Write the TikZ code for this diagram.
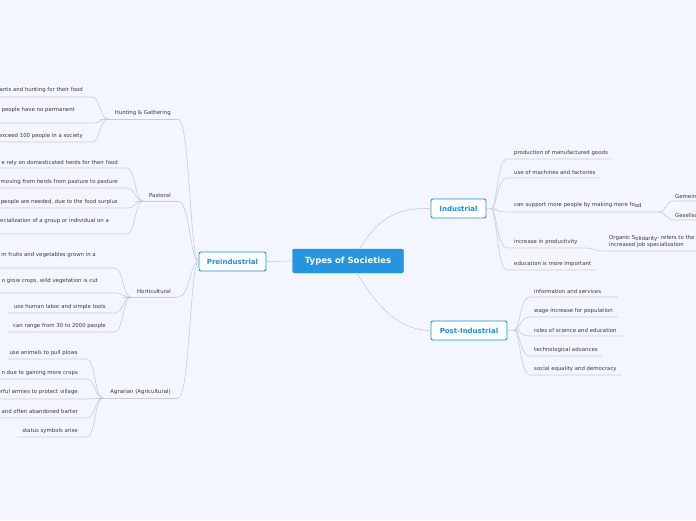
\documentclass[tikz,border=0pt]{standalone}
\usepackage{fontspec}
\setmainfont{DejaVu Sans}
\begin{document}
\begin{tikzpicture}[x=1pt,y=-1pt,
 ln/.style={draw=lncol,line width=0.6pt},
 lf/.style={inner sep=0pt,font=\fontsize{5.4}{6.2}\selectfont,text=txt},
 box/.style={draw=blu,fill=white,rounded corners=2pt,line width=0.9pt,text=blu,font=\fontsize{7}{8}\selectfont\bfseries,minimum height=19pt,inner sep=0pt},
 ]
\definecolor{bg}{HTML}{F3F6FE}\definecolor{lncol}{HTML}{C9CCD6}\definecolor{txt}{HTML}{3A3A3A}\definecolor{blu}{HTML}{1A8FDD}
\fill[bg] (0,0) rectangle (696,520);
\clip (0,0) rectangle (696,520);
\newcommand\lleaf[8]{\node[lf,anchor=east] (#1) at (#2,#3) {#8};
 \draw[ln] (#5,#4) -- (#6-8,#4) .. controls (#6,#4) and (#6,#7) .. (#6+8,#7);}
\newcommand\rleaf[8]{\node[lf,anchor=west] (#1) at (#2,#3) {#8};
 \draw[ln] (#5,#4) -- (#6+10,#4) .. controls (#6,#4) and (#6,#7) .. (#6-6,#7);}
\node[draw=blu,fill=blu!95!white,rounded corners=2pt,minimum width=111pt,minimum height=24pt,text=white,font=\fontsize{8.5}{10}\selectfont\bfseries] (root) at (348,261) {Types of Societies};
\node[box,minimum width=67pt] (pre) at (232.5,261.5) {Preindustrial};
\node[box,minimum width=55pt] (ind) at (458.5,208.5) {Industrial};
\node[box,minimum width=76pt] (post) at (469,330.5) {Post-Industrial};
\draw[ln] (pre.east) -- (root.west);
\draw[ln] (root.north east)+(-44,0) .. controls (380,215) and (400,208) .. (ind.west);
\draw[ln] (root.south east)+(-47,0) .. controls (380,310) and (400,330) .. (ind.west|-post.west);
\node[lf,anchor=south east] (hg) at (171,116) {Hunting \& Gathering};
\node[lf,anchor=south east] (pa) at (171,198) {Pastoral};
\node[lf,anchor=south east] (ho) at (171,294) {Horticultural};
\node[lf,anchor=south east] (ag) at (171,395) {Agrarian (Agricultural)};
\foreach \y in {119,201,297,398}{\draw[ln] (178,\y) .. controls (190,\y) and (190,261) .. (pre.west);}
\draw[ln] (100,119)--(178,119); \draw[ln] (135,201)--(178,201);
\draw[ln] (123,297)--(178,297); \draw[ln] (95,398)--(178,398);
\lleaf{h1}{83}{90}{97}{0}{100}{119}{ants and hunting for their food}
\lleaf{h2}{75}{110}{123}{0}{100}{119}{people have no permanent}
\lleaf{h3}{83}{136}{142}{0}{100}{119}{exceed 100 people in a society}
\lleaf{p1}{118}{163}{168}{0}{135}{201}{e rely on domesticated herds for their food}
\lleaf{p2}{118}{182}{188}{0}{135}{201}{moving from herds from pasture to pasture}
\lleaf{p3}{118}{202}{208}{0}{135}{201}{people are needed, due to the food surplus}
\lleaf{p4}{109}{221}{234}{0}{135}{201}{ecialization of a group or individual on a}
\lleaf{o1}{96}{255}{268}{0}{123}{297}{m fruits and vegetables grown in a}
\lleaf{o2}{98}{281}{293}{0}{123}{297}{o grow crops, wild vegetation is cut}
\lleaf{o3}{106}{307}{313}{8}{123}{297}{use human labor and simple tools}
\lleaf{o4}{106}{326}{332}{8}{123}{297}{can range from 30 to 2000 people}
\lleaf{a1}{78}{353}{359}{8}{95}{398}{use animals to pull plows}
\lleaf{a2}{78}{373}{379}{0}{95}{398}{n due to gaining more crops}
\lleaf{a3}{78}{392}{399}{0}{95}{398}{erful armies to protect village}
\lleaf{a4}{78}{411}{418}{0}{95}{398}{ and often abandoned barter}
\lleaf{a5}{78}{431}{437}{18}{95}{398}{status symbols arise}
\rleaf{i1}{514}{153}{159}{612}{497}{209}{production of manufactured goods}
\rleaf{i2}{514}{172}{178}{600}{497}{209}{use of machines and factories}
\rleaf{i3}{514}{205}{212}{658}{497}{209}{can support more people by making more fo\raisebox{-1.2pt}{od}}
\rleaf{i4}{514}{242}{248}{585}{497}{209}{increase in productivity}
\rleaf{i5}{514}{264}{270}{596}{497}{209}{education is more important}
\node[lf,anchor=west] (g1) at (675,196) {Gemeinschaft};
\node[lf,anchor=west] (g2) at (675,215) {Gesellschaft};
\draw[ln] (658,212) .. controls (668,212) and (664,201) .. (675,201) -- (696,201);
\draw[ln] (658,212) .. controls (668,212) and (664,220) .. (675,220) -- (696,220);
\node[lf,anchor=west,align=left] (os) at (609,241.5) {Organic S\raisebox{-1.2pt}{olidarity}- refers to the\\increased job specialization};
\draw[ln] (585,248) .. controls (595,248) and (592,251) .. (604,251) -- (696,251);
\rleaf{q1}{534}{291}{297}{618}{520}{330}{information and services}
\rleaf{q2}{534}{311}{317}{618}{520}{330}{wage increase for population}
\rleaf{q3}{534}{330}{336}{622}{520}{330}{roles of science and education}
\rleaf{q4}{534}{350}{356}{602}{520}{330}{technological advances}
\rleaf{q5}{534}{369}{375}{622}{520}{330}{social equality and democracy}
\draw[ln] (post.east) -- (520,330);
\draw[ln] (ind.east) -- (497,209);
\end{tikzpicture}
\end{document}
